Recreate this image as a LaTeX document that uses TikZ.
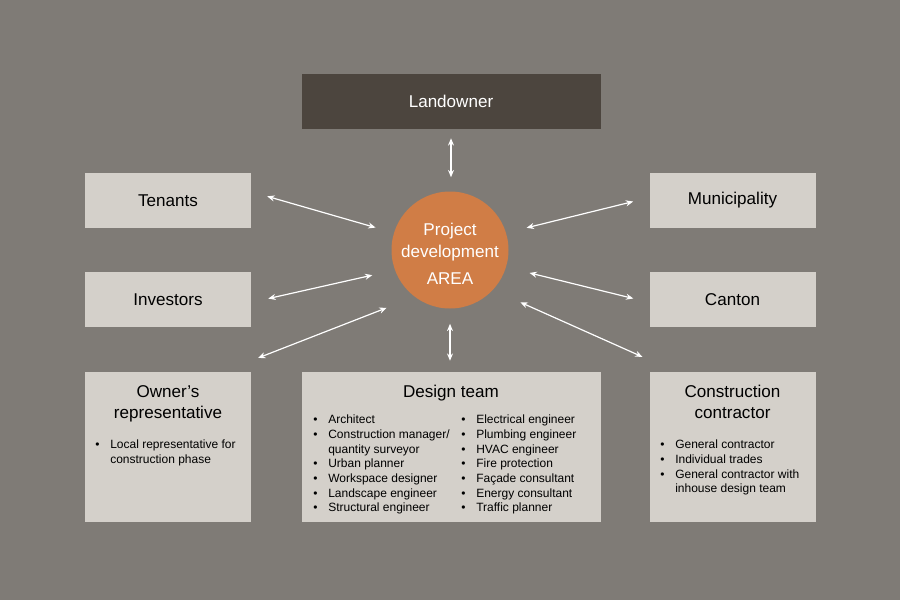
\documentclass[tikz,border=0pt]{standalone}
\usepackage{fontspec}
\setmainfont{Liberation Sans}
\usetikzlibrary{arrows.meta, positioning}
\definecolor{bggray}{RGB}{127,123,118}
\definecolor{boxgray}{RGB}{212,208,202}
\definecolor{darkbrown}{RGB}{76,69,62}
\definecolor{areaorange}{RGB}{208,125,70}
\newlength{\pxu}\setlength{\pxu}{0.75pt}
\newcommand{\itm}[1]{\makebox[15\pxu][l]{\textbullet}#1}
\newcommand{\cnt}[1]{\hspace*{15\pxu}#1}

\begin{document}
\begin{tikzpicture}[x=0.75pt, y=-0.75pt,
  party/.style={rectangle, fill=boxgray, minimum width=166\pxu, minimum height=55\pxu,
                inner sep=0pt, font=\fontsize{12.8}{15.5}\selectfont},
  bigbox/.style={rectangle, fill=boxgray, minimum width=#1, minimum height=150\pxu,
                 inner sep=0pt},
  ttl/.style={anchor=north, align=center, inner sep=0pt, font=\fontsize{12.8}{15.75}\selectfont},
  lst/.style={anchor=north west, align=left, inner sep=0pt, font=\fontsize{9}{11}\selectfont},
  arr/.style={{Stealth[length=5.5pt,width=4.5pt]}-{Stealth[length=5.5pt,width=4.5pt]}, white,
              line width=0.9pt},
]
  % Background
  \fill[bggray] (0,0) rectangle (900,600);

  % Landowner and centre
  \node[rectangle, fill=darkbrown, text=white, minimum width=299\pxu, minimum height=55\pxu,
        inner sep=0pt, font=\fontsize{12.8}{15.5}\selectfont] (lo) at (451,101.5) {Landowner};
  \node[circle, fill=areaorange, minimum size=117\pxu, inner sep=0pt] (pd) at (450,250) {};
  \node[text=white, inner sep=0pt, align=center, font=\fontsize{12.8}{16.5}\selectfont]
        (pdt) at ([yshift=-3pt]pd.center) {Project\\development\\[3.5pt]AREA};

  % Left parties
  \node[party] (ten) at (168,200.5) {Tenants};
  \node[party] (inv) at (168,299.5) {Investors};

  % Right parties
  \node[party] (mun) at (732.5,200.5) {Municipality};
  \node[party] (can) at (732.5,299.5) {Canton};

  % Owner's representative
  \node[bigbox=166\pxu] (own) at (168,447) {};
  \node[ttl] (ownt) at (168,385) {Owner’s\\representative};
  \node[lst] (ownl) at (95,440) {\itm{Local representative for}\\\cnt{construction phase}};

  % Design team
  \node[bigbox=299\pxu] (dt) at (451,447) {};
  \node[ttl] (dtt) at (451,385) {Design team};
  \node[lst] (dtl) at (313,415) {\itm{Architect}\\\itm{Construction manager/}\\\cnt{quantity surveyor}\\
    \itm{Urban planner}\\\itm{Workspace designer}\\\itm{Landscape engineer}\\\itm{Structural engineer}};
  \node[lst] (dtr) at (461,415) {\itm{Electrical engineer}\\\itm{Plumbing engineer}\\\itm{HVAC engineer}\\
    \itm{Fire protection}\\\itm{Façade consultant}\\\itm{Energy consultant}\\\itm{Traffic planner}};

  % Construction contractor
  \node[bigbox=166\pxu] (con) at (732.5,447) {};
  \node[ttl] (cont) at (732.5,385) {Construction\\contractor};
  \node[lst] (conl) at (660,440) {\itm{General contractor}\\\itm{Individual trades}\\
    \itm{General contractor with}\\\cnt{inhouse design team}};

  % Connections
  \draw[arr, shorten <=9\pxu, shorten >=14\pxu] (lo.south) -- (lo.south |- pd.north);
  \draw[arr, shorten <=11\pxu, shorten >=15\pxu] (dt.north -| pd.south) -- (pd.south);
  \draw[arr, shorten <=16.6\pxu, shorten >=19\pxu] (ten.6) -- (pd.163);
  \draw[arr, shorten <=17.4\pxu, shorten >=23\pxu] (inv.-2) -- (pd.200);
  \draw[arr, shorten <=38\pxu, shorten >=30\pxu] (own.54) -- (pd.233);
  \draw[arr, shorten <=16.5\pxu, shorten >=21\pxu] (mun.178) -- (pd.17);
  \draw[arr, shorten <=16.4\pxu, shorten >=24\pxu] (can.182) -- (pd.-17);
  \draw[arr, shorten <=36.5\pxu, shorten >=30\pxu] (con.127) -- (pd.-43);
\end{tikzpicture}
\end{document}
